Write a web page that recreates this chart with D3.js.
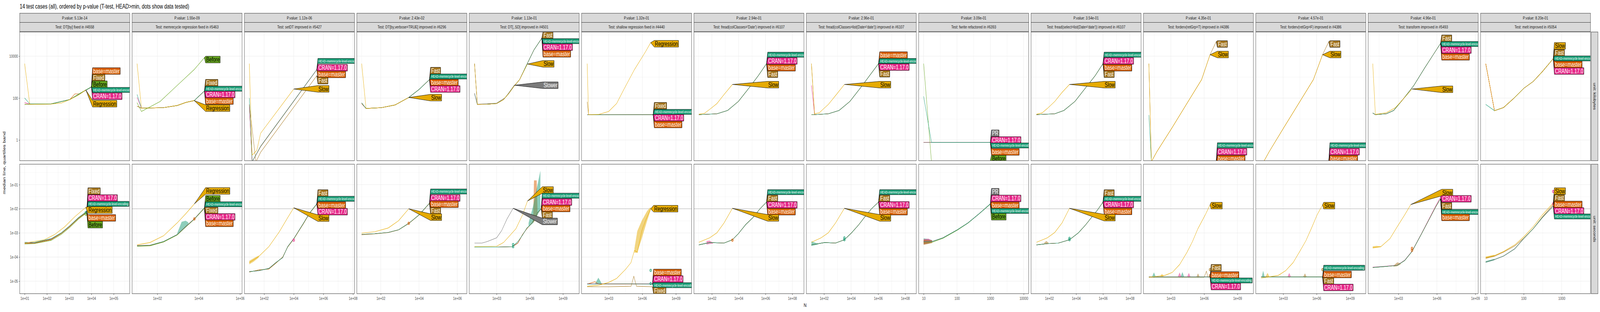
<!DOCTYPE html>
<html>
<head>
<meta charset="utf-8">
<script src="https://cdn.jsdelivr.net/npm/d3@7"></script>
<style>
  html, body { margin: 0; padding: 0; background: #fff; overflow: hidden; }
  #chart svg { display: block; width: 100vw; height: 100vh; }
  text { font-family: "Liberation Sans", Arial, Helvetica, sans-serif; }
</style>
</head>
<body>
<div id="chart"></div>
<script>
// ---- facet headers / axes ----
const panelPValues = ['5.13e-14', '1.55e-09', '1.12e-06', '2.43e-02', '1.13e-01', '1.32e-01', '2.94e-01',
  '2.96e-01', '3.09e-01', '3.54e-01', '4.35e-01', '4.57e-01', '4.96e-01', '8.20e-01'];
const panelTests = ['DT[by] fixed in #4558', 'memrecycle regression fixed in #5463', 'setDT improved in #5427',
  'DT[by,verbose=TRUE] improved in #6296', 'DT[,.SD] improved in #4501', 'shallow regression fixed in #4440',
  "fread(colClasses='Date') improved in #6107", "fread(colClasses=list(Date='date')) improved in #6107",
  'fwrite refactored in #6393', "fread(select=list(Date='date')) improved in #6107",
  'forderv(retGrp=T) improved in #4386', 'forderv(retGrp=F) improved in #4386',
  'transform improved in #5493', 'melt improved in #5054'];
const panelNRange = [[6.0, 5.25e5], [6.0, 1.26e6], [4.7, 1.26e8], [5.6, 3.16e6], [3.3, 2.95e10], [3.8, 2.5e10],
  [4.6, 7.4e8], [4.9, 6.6e8], [7.1, 14100], [4.4, 6.8e8], [3.4, 2.75e10], [3.5, 2.57e10], [4.4, 1.66e9], [7.3, 5750]];
const e2 = [100, 1e4, 1e6], e4 = [100, 1e4, 1e6, 1e8], e3 = [1e3, 1e6, 1e9];
const panelNTicks = [[10, 100, 1e3, 1e4, 1e5], e2, e4, e2, e3, e3, e4, e4, [10, 100, 1000, 10000], e4, e3, e3, e3, [10, 100, 1000]];
const sciLabel = { 10: '1e+01', 100: '1e+02', 1000: '1e+03', 10000: '1e+04', 100000: '1e+05', 1e6: '1e+06', 1e8: '1e+08', 1e9: '1e+09' };
const plainTickPanels = [8, 13];
const kbTicks = [1, 100, 10000];
const kbTickLabels = ['1', '100', '10000'];
const secTicks = [1e-5, 1e-4, 1e-3, 1e-2, 1e-1];
const secTickLabels = ['1e-05', '1e-04', '1e-03', '1e-02', '1e-01'];
const kbRange = [0.1033, 142200];
const secRange = [3.04e-6, 0.705];
const secRefLine = 0.01;

const seriesColor = { HEAD: '#1B9E77', base: '#D95F02', CRAN: '#E7298A', Before: '#66A61E', Regression: '#E6AB02',
  Slow: '#E6AB02', Fixed: '#A6761D', Fast: '#A6761D', Slower: '#7A7A7A', PR: '#7A7A7A' };
const labelText = { HEAD: 'HEAD=memrecycle-level-encoding', base: 'base=master', CRAN: 'CRAN=1.17.0', Before: 'Before',
  Regression: 'Regression', Fixed: 'Fixed', Fast: 'Fast', Slow: 'Slow', Slower: 'Slower', PR: 'PR' };
const darkInk = ['Before', 'Regression', 'Slow'];
const drawOrder = ['base', 'CRAN', 'Fixed', 'Fast', 'Before', 'Slower', 'PR', 'HEAD', 'Regression', 'Slow'];

// ---- 1: DT[by] ----
const dtBy_kb = {
  Regression: [[10, 4400], [17, 50], [155, 52], [450, 58], [1070, 85], [2600, 138], [5600, 245]],
  base: [[10, 50], [155, 52], [1070, 85], [1800, 158], [3100, 158], [5200, 230], [10000, 340]],
  CRAN: [[10, 60], [17, 52], [155, 53], [1070, 85], [3100, 165], [10000, 330]],
  Fixed: [[10, 50], [17, 51], [155, 53], [1070, 86], [3100, 168], [10000, 335]],
  Before: [[10, 50], [17, 51], [155, 52], [1070, 84], [3100, 170], [10000, 345]],
  HEAD: [[10, 100], [17, 53], [155, 53], [1070, 85], [3100, 165], [10000, 340]]
};
const dtBy_kbLabels = [['base', 1950], ['Fixed', 955], ['Before', 457], ['HEAD', 245], ['CRAN', 123], ['Regression', 54]];
const dtBy_sec = {
  Regression: [[10, 3.8e-4], [78, 5.2e-4], [220, 8.5e-4], [630, 1.8e-3], [1800, 4.7e-3], [5600, 1.15e-2]],
  base: [[10, 3.6e-4], [27, 3.7e-4], [155, 5.2e-4], [450, 9.5e-4], [1070, 1.85e-3], [2600, 4.0e-3], [6200, 7.2e-3]],
  CRAN: [[10, 4.0e-4], [27, 3.9e-4], [155, 5.6e-4], [450, 1.0e-3], [1070, 1.95e-3], [2600, 4.2e-3], [6200, 7.6e-3]],
  Fixed: [[10, 3.7e-4], [27, 3.8e-4], [155, 5.4e-4], [450, 9.8e-4], [1070, 1.9e-3], [2600, 4.1e-3], [6200, 7.4e-3]],
  Before: [[10, 3.5e-4], [27, 3.6e-4], [155, 4.9e-4], [450, 8.8e-4], [1070, 1.7e-3], [2600, 3.7e-3], [6200, 6.9e-3]],
  HEAD: [[10, 4.1e-4], [27, 4.0e-4], [155, 5.8e-4], [450, 1.02e-3], [1070, 2.0e-3], [2600, 4.3e-3], [6200, 7.9e-3]]
};
const dtBy_secLabels = [['Fixed', 0.054], ['CRAN', 0.028], ['HEAD', 0.016], ['Regression', 0.0089], ['base', 0.0042], ['Before', 0.0022]];
const dtBy_secBands = {};
const dtBy_secDots = [['HEAD', 5600, 7.0e-3], ['Before', 5600, 6.0e-3]];

// ---- 2: memrecycle ----
const memrecycle_kb = {
  Regression: [[10.5, 4400], [17, 33], [195, 35], [910, 44], [2400, 62], [6100, 76]],
  base: [[10.5, 41], [17, 33], [195, 35], [910, 44], [2400, 62], [6100, 76], [19000, 215]],
  CRAN: [[10.5, 107], [17, 33], [195, 35], [910, 44], [2400, 62], [6100, 76], [19000, 215]],
  Fixed: [[10.5, 41], [17, 33], [195, 35], [910, 44], [2400, 62], [6100, 76], [19000, 220]],
  Before: [[10.5, 60], [17, 23], [136, 69], [910, 400], [6100, 2300], [19000, 8500]],
  HEAD: [[10.5, 148], [17, 33], [195, 35], [910, 44], [2400, 62], [6100, 76], [19000, 220]]
};
const memrecycle_kbLabels = [['Before', 6900], ['Fixed', 540], ['HEAD', 280], ['CRAN', 148], ['base', 72], ['Regression', 33]];
const memrecycle_sec = {
  Regression: [[10.5, 3.2e-4], [44, 4.0e-4], [200, 7.6e-4], [910, 2.6e-3], [2350, 6.2e-3], [6200, 1.6e-2]],
  base: [[10.5, 2.9e-4], [44, 3.0e-4], [200, 4.2e-4], [910, 8.2e-4], [2350, 1.75e-3], [6200, 3.7e-3], [19000, 1.05e-2]],
  CRAN: [[10.5, 3.0e-4], [44, 3.1e-4], [200, 4.4e-4], [910, 8.6e-4], [2350, 1.85e-3], [6200, 3.9e-3], [19000, 1.1e-2]],
  Fixed: [[10.5, 2.9e-4], [44, 3.0e-4], [200, 4.3e-4], [910, 8.4e-4], [2350, 1.8e-3], [6200, 3.8e-3], [19000, 1.1e-2]],
  Before: [[10.5, 2.8e-4], [44, 2.9e-4], [200, 4.2e-4], [910, 8.3e-4], [2350, 1.8e-3], [6200, 3.8e-3], [19000, 1.08e-2]],
  HEAD: [[10.5, 2.95e-4], [44, 3.1e-4], [200, 4.4e-4], [910, 8.5e-4], [2350, 1.8e-3], [6200, 3.8e-3], [19000, 1.1e-2]]
};
const memrecycle_secLabels = [['Regression', 0.055], ['Before', 0.026], ['HEAD', 0.0154], ['Fixed', 0.0085], ['CRAN', 0.0046], ['base', 0.0025]];
const memrecycle_secBands = { HEAD: [[910, 8.5e-4, 9.5e-4], [1500, 1.2e-3, 2.9e-3], [2350, 1.8e-3, 3.2e-3], [3200, 2.4e-3, 2.7e-3]] };
const memrecycle_secDots = [['base', 6200, 3.8e-3]];

// ---- 3: setDT ----
const setDT_kb = {
  Slow: [[10, 4400], [15.5, 0.19], [32, 0.32], [58, 2.1], [10000, 270]],
  Fast: [[10, 50], [28, 0.09], [58, 0.26], [3.6e5, 1170]],
  base: [[10, 45], [15.5, 0.09], [58, 0.48], [3.6e5, 2250]],
  CRAN: [[10, 50], [15.5, 0.09], [58, 0.5], [3.6e5, 2300]],
  HEAD: [[10, 100], [15.5, 0.093], [58, 0.5], [3.6e5, 2300]]
};
const setDT_kbLabels = [['HEAD', 5900], ['CRAN', 2800], ['base', 1350], ['Fast', 680], ['Slow', 275]];
const setDT_secCluster = [[10, 2.5e-5], [43, 2.7e-5], [210, 3.4e-5], [620, 5.9e-5], [1800, 9.5e-5], [3900, 2.7e-4],
  [10000, 5.8e-4], [43000, 2.4e-3], [1.2e5, 6.8e-3], [3.6e5, 1.6e-2]];
const setDT_secAlt = [[10, 2.4e-5], [43, 2.9e-5], [210, 3.2e-5], [620, 5.6e-5], [1800, 1.0e-4], [3900, 2.6e-4],
  [10000, 5.6e-4], [43000, 2.3e-3], [1.2e5, 6.6e-3], [3.6e5, 1.55e-2]];
const setDT_sec = {
  Slow: [[10, 5.9e-5], [43, 1.05e-4], [210, 2.7e-4], [1050, 1.1e-3], [3900, 4.3e-3], [10000, 1.1e-2]],
  Fast: setDT_secAlt, base: setDT_secAlt, CRAN: setDT_secCluster, HEAD: setDT_secCluster
};
const setDT_secLabels = [['Fast', 0.045], ['HEAD', 0.026], ['base', 0.0142], ['CRAN', 0.0076], ['Slow', 0.0041]];
const setDT_secBands = { Slow: [[10, 5.0e-5, 7.0e-5], [20, 6.5e-5, 9.0e-5], [43, 9.5e-5, 1.15e-4]] };
const setDT_secDots = [['CRAN', 10000, 5.0e-4]];

// ---- 4: DT[by,verbose=TRUE] ----
const verbose_kbCluster = [[10, 55], [17, 32], [110, 35], [560, 47], [2900, 107], [10000, 257], [35000, 760]];
const verbose_kb = {
  Slow: [[10, 4400], [17, 32], [110, 35], [560, 47], [2900, 107]],
  base: verbose_kbCluster, CRAN: verbose_kbCluster, Fast: verbose_kbCluster,
  HEAD: [[10, 60], [17, 32], [110, 35], [560, 47], [2900, 107], [10000, 257], [35000, 760]]
};
const verbose_kbLabels = [['Fast', 2040], ['HEAD', 1070], ['base', 550], ['CRAN', 270], ['Slow', 105]];
const verbose_secCluster = [[10, 8.7e-4], [48, 9.3e-4], [245, 1.05e-3], [850, 1.35e-3], [2900, 2.5e-3], [10000, 5.6e-3], [35000, 1.7e-2]];
const verbose_sec = {
  Slow: [[10, 9.8e-4], [48, 1.12e-3], [245, 1.6e-3], [850, 3.2e-3], [2900, 1.0e-2]],
  base: [[10, 8.4e-4], [48, 9.1e-4], [245, 1.03e-3], [850, 1.33e-3], [2900, 2.45e-3], [10000, 5.5e-3], [35000, 1.65e-2]],
  CRAN: verbose_secCluster, Fast: verbose_secCluster, HEAD: verbose_secCluster
};
const verbose_secLabels = [['HEAD', 0.052], ['CRAN', 0.028], ['base', 0.0155], ['Fast', 0.0083], ['Slow', 0.0045]];
const verbose_secBands = {};
const verbose_secDots = [['base', 2900, 2.5e-3]];

// ---- 5: DT[,.SD] ----
const sd_kbTail = [[18, 50], [145, 51], [1000, 55], [4200, 85], [12600, 166], [39000, 380], [1.2e5, 760], [5.4e5, 4000], [2.4e6, 20000], [1.23e7, 72000]];
const sd_kb = {
  Slow: [[10, 4400], [18, 50], [145, 51], [1000, 55], [4200, 85], [12600, 166], [39000, 380], [1.2e5, 760], [6.2e5, 4200]],
  Slower: [[10, 4400], [18, 51], [1000, 57], [6000, 105], [39000, 410]],
  base: [[10, 166]].concat(sd_kbTail), CRAN: [[10, 166]].concat(sd_kbTail),
  Fast: [[10, 4400]].concat(sd_kbTail), HEAD: [[10, 166]].concat(sd_kbTail)
};
const sd_kbLabels = [['Fast', 1.0e5], ['HEAD', 52000], ['CRAN', 27000], ['base', 12900], ['Slow', 4300], ['Slower', 410]];
const sd_secCluster = [[10, 2.6e-4], [1000, 2.6e-4], [27000, 2.7e-4], [83000, 3.8e-4], [2.2e5, 8.5e-4], [5.4e5, 1.5e-3], [1.6e6, 2.6e-3], [5e6, 6.8e-3], [1.07e7, 1.0e-2]];
const sd_sec = {
  Slower: [[10, 3.8e-4], [47, 3.8e-4], [145, 4.4e-4], [1000, 6.3e-4], [2800, 1.23e-3], [8700, 3.8e-3], [31000, 1.05e-2]],
  Slow: [[10, 2.7e-4], [1000, 2.8e-4], [4200, 4.0e-4], [18600, 8.5e-4], [56000, 1.5e-3], [2.2e5, 5.6e-3], [6.2e5, 2.1e-2]],
  base: sd_secCluster, CRAN: sd_secCluster, Fast: sd_secCluster,
  HEAD: [[10, 2.6e-4], [1000, 2.6e-4], [27000, 2.7e-4], [83000, 4.4e-4], [2.2e5, 8.0e-4], [5.4e5, 1.6e-3], [1.6e6, 2.5e-3], [5e6, 7.0e-3], [1.07e7, 1.0e-2]]
};
const sd_secLabels = [['Slow', 0.060], ['HEAD', 0.035], ['CRAN', 0.019], ['base', 0.0103], ['Fast', 0.0056], ['Slower', 0.0030]];
const sd_secBands = {
  base: [[2.0e6, 2.6e-3, 3.2e-3], [2.4e6, 2.8e-3, 0.15], [4.2e6, 4.5e-3, 0.15], [5e6, 6.0e-3, 8.0e-3]],
  HEAD: [[7.8e5, 1.8e-3, 2.6e-3], [2.0e6, 2.6e-3, 1.3e-2], [5e6, 5.5e-3, 0.1], [9.1e6, 9.0e-3, 0.38]]
};
const sd_secDots = [['HEAD', 31000, 2.7e-4], ['HEAD', 31000, 3.3e-4]];

// ---- 6: shallow ----
const shallow_kb = {
  Regression: [[12, 4400], [16, 16], [126, 16.6], [1000, 23], [5100, 55], [22400, 257], [2.0e5, 2300], [1.9e6, 16000], [5.6e6, 44000]],
  Fixed: [[12, 66], [16, 16], [9.3e6, 16.2]],
  base: [[12, 16], [9.3e6, 16.2]], CRAN: [[12, 16], [9.3e6, 16.2]], HEAD: [[12, 16], [9.3e6, 16.2]]
};
const shallow_kbLabels = [['Regression', 39000], ['Fixed', 43], ['HEAD', 22], ['CRAN', 11.5], ['base', 5.5]];
const shallow_sec = {
  Regression: [[12, 6.2e-6], [126, 6.8e-6], [1000, 8.9e-6], [5100, 1.3e-5], [32000, 3.1e-5], [98000, 5.9e-5], [2.0e5, 1.9e-4],
    [3.6e5, 1.55e-4], [8.9e5, 1.2e-3], [1.9e6, 3.2e-3], [5.6e6, 1.0e-2]],
  Fixed: [[12, 5.9e-6], [1000, 5.9e-6], [1.0e5, 6.2e-6], [1.75e5, 1.6e-5], [3e5, 6.2e-6], [8.1e6, 5.9e-6]],
  base: [[12, 7.6e-6], [60, 9.5e-6], [120, 7.6e-6], [8.1e6, 7.6e-6]],
  CRAN: [[12, 7.8e-6], [8.1e6, 7.8e-6]],
  HEAD: [[12, 7.6e-6], [30000, 7.8e-6], [8.1e6, 7.6e-6]]
};
const shallow_secLabels = [['Regression', 0.0101], ['base', 2.3e-5], ['CRAN', 1.23e-5], ['HEAD', 6.8e-6], ['Fixed', 4.0e-6]];
const shallow_secBands = {
  Regression: [[2.0e5, 1.5e-4, 2.3e-4], [3.6e5, 1.55e-4, 1.2e-3], [8.9e5, 5.8e-4, 3.2e-3], [2.7e6, 3.2e-3, 8.1e-3], [5.6e6, 8.9e-3, 1.2e-2]],
  HEAD: [[60, 7.6e-6, 7.8e-6], [120, 7.6e-6, 1.4e-5], [250, 7.6e-6, 7.8e-6]]
};
const shallow_secDots = [['HEAD', 5.6e6, 2.8e-5], ['HEAD', 5.6e6, 8.0e-6]];

// ---- 7: fread(colClasses='Date') ----
const freadDate_kbCluster = [[10.7, 16.2], [240, 17.8], [1500, 25.7], [9500, 69], [62000, 316], [2.9e5, 1170], [1.2e6, 4400]];
const freadDate_kb = {
  Slow: [[10.7, 17], [27.5, 18.6], [69, 29], [240, 55], [810, 148], [3400, 447]],
  base: freadDate_kbCluster, CRAN: freadDate_kbCluster, Fast: freadDate_kbCluster, HEAD: freadDate_kbCluster
};
const freadDate_kbLabels = [['HEAD', 11700], ['CRAN', 5900], ['base', 2800], ['Fast', 1380], ['Slow', 436]];
const freadDate_secCluster = [[10.7, 3.2e-4], [69, 4.0e-4], [810, 3.8e-4], [3400, 5.2e-4], [9500, 9.3e-4], [33000, 2.2e-3], [1.15e5, 4.3e-3], [3.9e5, 1.0e-2], [1.2e6, 1.9e-2]];
const freadDate_sec = {
  Slow: [[10.7, 4.1e-4], [69, 6.3e-4], [240, 1.02e-3], [810, 2.6e-3], [3400, 1.05e-2]],
  base: freadDate_secCluster, CRAN: freadDate_secCluster, Fast: freadDate_secCluster, HEAD: freadDate_secCluster
};
const freadDate_secLabels = [['HEAD', 0.049], ['Fast', 0.027], ['CRAN', 0.0145], ['base', 0.0076], ['Slow', 0.0042]];
const freadDate_secBands = { CRAN: [[40, 3.3e-4, 4.6e-4], [69, 3.5e-4, 4.8e-4], [120, 3.6e-4, 3.9e-4]] };
const freadDate_secDots = [['base', 3400, 5.0e-4]];

// ---- 8: fread(colClasses=list(Date='date')) ----
const freadList_kbTail = [[20, 16.2], [210, 17.8], [1290, 25.7], [8100, 69], [51000, 316], [2.3e5, 1170], [1.07e6, 4400]];
const freadList_kb = {
  Slow: [[11.7, 4400], [20, 17.8], [46, 20], [83, 29], [210, 50], [710, 132], [3200, 447]],
  Fast: [[11.7, 4400]].concat(freadList_kbTail), CRAN: [[11.7, 400]].concat(freadList_kbTail),
  base: [[11.7, 16.2]].concat(freadList_kbTail), HEAD: [[11.7, 16.2]].concat(freadList_kbTail)
};
const freadList_kbLabels = [['base', 11200], ['HEAD', 5900], ['CRAN', 3000], ['Fast', 1450], ['Slow', 436]];
const freadList_secCluster = [[11.7, 3.2e-4], [112, 4.0e-4], [710, 3.8e-4], [3200, 5.2e-4], [11000, 1.02e-3], [37000, 2.2e-3], [93000, 4.3e-3], [3.2e5, 1.0e-2], [1.07e6, 1.9e-2]];
const freadList_sec = {
  Slow: [[11.7, 4.1e-4], [61, 6.3e-4], [210, 1.02e-3], [710, 2.6e-3], [3200, 1.05e-2]],
  base: freadList_secCluster, CRAN: freadList_secCluster, Fast: freadList_secCluster, HEAD: freadList_secCluster
};
const freadList_secLabels = [['HEAD', 0.049], ['Fast', 0.027], ['CRAN', 0.0145], ['base', 0.0076], ['Slow', 0.0042]];
const freadList_secBands = { HEAD: [[11.7, 2.9e-4, 4.5e-4], [20, 3.1e-4, 4.0e-4], [35, 3.3e-4, 3.6e-4]] };
const freadList_secDots = [['HEAD', 3200, 5.2e-4], ['HEAD', 3200, 6.2e-4]];

// ---- 9: fwrite ----
const fwrite_kb = {
  Before: [[10, 4400], [17.2, 0.087], [1000, 0.1]],
  base: [[10, 0.76], [1000, 0.76]], CRAN: [[10, 0.76], [1000, 0.76]], PR: [[10, 0.76], [1000, 0.76]],
  HEAD: [[10, 120], [17.2, 0.76], [1000, 0.76]]
};
const fwrite_kbLabels = [['PR', 2.1], ['CRAN', 1.0], ['HEAD', 0.55], ['base', 0.27], ['Before', 0.13]];
const fwrite_secCluster = [[10, 4.4e-4], [18, 4.4e-4], [38, 6.3e-4], [102, 1.35e-3], [214, 2.6e-3], [457, 6.2e-3], [1000, 1.6e-2]];
const fwrite_sec = {
  Before: [[10, 3.9e-4], [18, 4.1e-4], [38, 6.0e-4], [102, 1.3e-3], [214, 2.55e-3], [457, 6.1e-3], [1000, 1.55e-2]],
  base: fwrite_secCluster, CRAN: fwrite_secCluster, PR: fwrite_secCluster, HEAD: fwrite_secCluster
};
const fwrite_secLabels = [['PR', 0.051], ['CRAN', 0.027], ['base', 0.0141], ['HEAD', 0.0082], ['Before', 0.0047]];
const fwrite_secBands = {
  HEAD: [[10, 3.3e-4, 6.0e-4], [14, 3.6e-4, 5.5e-4], [18, 4.0e-4, 5.0e-4]],
  CRAN: [[10, 3.5e-4, 5.5e-4], [14, 3.8e-4, 5.8e-4], [18, 4.2e-4, 4.8e-4]],
  base: [[10, 3.2e-4, 5.2e-4], [18, 3.8e-4, 4.9e-4]]
};
const fwrite_secDots = [];

// ---- 10: fread(select=list(Date='date')) ----
const freadSel_kbCluster = [[11.2, 16.2], [257, 17.8], [1230, 25.7], [8100, 69], [52000, 316], [2.6e5, 1170], [1.0e6, 4400]];
const freadSel_kb = {
  Slow: [[11.2, 17], [29, 19.5], [72, 32], [257, 69], [890, 186], [3200, 447]],
  base: freadSel_kbCluster, CRAN: freadSel_kbCluster, Fast: freadSel_kbCluster, HEAD: freadSel_kbCluster
};
const freadSel_kbLabels = [['HEAD', 11700], ['CRAN', 5900], ['base', 2800], ['Fast', 1380], ['Slow', 436]];
const freadSel_secCluster = [[11.2, 3.2e-4], [72, 3.6e-4], [480, 3.8e-4], [3200, 5.2e-4], [15000, 1.02e-3], [52000, 2.2e-3], [1.35e5, 4.3e-3], [4.0e5, 9.1e-3], [1.0e6, 1.9e-2]];
const freadSel_sec = {
  Slow: [[11.2, 4.1e-4], [72, 6.3e-4], [257, 1.05e-3], [890, 2.6e-3], [3200, 1.05e-2]],
  base: freadSel_secCluster, CRAN: freadSel_secCluster, Fast: freadSel_secCluster, HEAD: freadSel_secCluster
};
const freadSel_secLabels = [['Fast', 0.045], ['HEAD', 0.026], ['CRAN', 0.0151], ['base', 0.0078], ['Slow', 0.0043]];
const freadSel_secBands = { Fast: [[40, 3.5e-4, 3.8e-4], [60, 3.5e-4, 4.6e-4], [90, 3.6e-4, 3.9e-4]] };
const freadSel_secDots = [['HEAD', 3200, 5.2e-4], ['HEAD', 3200, 6.0e-4]];

// ---- 11: forderv(retGrp=T) ----
const forderT_kb = {
  Slow: [[10.5, 4400], [17.8, 0.093], [56, 0.28], [1350, 4.0], [28000, 55], [5.9e5, 760], [3.4e6, 11700]],
  Fast: [[10.5, 4400], [17.8, 0.093], [56, 0.28], [1350, 4.0], [28000, 55], [5.9e5, 760], [3.4e6, 11700], [1.23e7, 49000]],
  HEAD: [[10.5, 15.5], [17.8, 0.09], [1.23e7, 0.09]],
  CRAN: [[10.5, 0.09], [1.23e7, 0.09]], base: [[10.5, 0.09], [1.23e7, 0.09]]
};
const forderT_kbLabels = [['Fast', 38000], ['Slow', 12000], ['HEAD', 0.56], ['CRAN', 0.275], ['base', 0.13]];
const forderT_sec = {
  Slow: [[10.5, 1.45e-5], [295, 1.74e-5], [1350, 2.3e-5], [6200, 4.9e-5], [28000, 1.55e-4], [89000, 4.4e-4], [2.75e5, 1.5e-3], [1.26e6, 5.6e-3], [3.4e6, 1.45e-2]],
  Fast: [[10.5, 1.45e-5], [1.0e6, 1.45e-5], [1.6e6, 2.6e-5], [2.2e6, 1.45e-5], [3.4e6, 1.5e-5]],
  HEAD: [[10.5, 1.5e-5], [3.4e6, 1.5e-5]], CRAN: [[10.5, 1.5e-5], [3.4e6, 1.5e-5]], base: [[10.5, 1.5e-5], [3.4e6, 1.5e-5]]
};
const forderT_secLabels = [['Slow', 0.0135], ['Fast', 3.6e-5], ['base', 1.8e-5], ['HEAD', 1.07e-5], ['CRAN', 6.0e-6]];
const forderT_secBands = {
  HEAD: [[20, 1.5e-5, 1.5e-5], [30, 1.4e-5, 2.3e-5], [45, 1.5e-5, 1.5e-5], [7500, 1.5e-5, 1.5e-5], [11000, 1.4e-5, 2.4e-5], [16000, 1.5e-5, 1.5e-5]],
  CRAN: [[4200, 1.5e-5, 1.5e-5], [6200, 1.4e-5, 2.3e-5], [9000, 1.5e-5, 1.5e-5], [29000, 1.5e-5, 1.5e-5], [42000, 1.4e-5, 2.2e-5], [60000, 1.5e-5, 1.5e-5]],
  Slow: [[110, 1.6e-5, 1.6e-5], [160, 1.5e-5, 2.0e-5], [230, 1.6e-5, 1.6e-5]],
  Fast: [[2.0e5, 1.5e-5, 1.5e-5], [2.8e5, 1.4e-5, 2.1e-5], [4.0e5, 1.5e-5, 1.5e-5]]
};
const forderT_secDots = [['Fast', 3.4e6, 3.0e-5], ['base', 3.4e6, 1.7e-5]];

// ---- 12: forderv(retGrp=F) ----
const forderF_kb = {
  Slow: [[17.8, 0.093], [56, 0.28], [1170, 4.0], [24500, 55], [5.1e5, 760], [3.4e6, 11700]],
  Fast: [[17.8, 0.093], [56, 0.28], [1170, 4.0], [24500, 55], [5.1e5, 760], [3.4e6, 11700], [1.23e7, 49000]],
  HEAD: [[10.5, 0.09], [1.23e7, 0.09]], CRAN: [[10.5, 0.09], [1.23e7, 0.09]], base: [[10.5, 0.09], [1.23e7, 0.09]]
};
const forderF_kbLabels = [['Fast', 38000], ['Slow', 12000], ['HEAD', 0.56], ['CRAN', 0.275], ['base', 0.13]];
const forderF_sec = {
  Slow: [[10.5, 1.35e-5], [370, 1.74e-5], [1700, 2.75e-5], [7800, 5.9e-5], [35000, 1.9e-4], [1.1e5, 4.8e-4], [3.5e5, 1.6e-3], [1.1e6, 5.6e-3], [3.4e6, 1.45e-2]],
  Fast: [[10.5, 1.5e-5], [3.4e6, 1.5e-5]],
  HEAD: [[10.5, 1.5e-5], [3.4e6, 1.5e-5]], CRAN: [[10.5, 1.5e-5], [3.4e6, 1.5e-5]], base: [[10.5, 1.5e-5], [3.4e6, 1.5e-5]]
};
const forderF_secLabels = [['Slow', 0.0135], ['HEAD', 3.6e-5], ['base', 1.9e-5], ['Fast', 1.02e-5], ['CRAN', 5.5e-6]];
const forderF_secBands = {
  HEAD: [[12, 1.5e-5, 1.5e-5], [16, 1.4e-5, 2.7e-5], [22, 1.5e-5, 1.5e-5]],
  CRAN: [[2400, 1.5e-5, 1.5e-5], [3500, 1.4e-5, 2.2e-5], [5000, 1.5e-5, 1.5e-5]],
  Slow: [[25, 1.5e-5, 1.5e-5], [40, 1.4e-5, 2.2e-5], [60, 1.5e-5, 1.5e-5]],
  Fast: [[6e4, 1.5e-5, 1.5e-5], [9e4, 1.4e-5, 2.1e-5], [1.3e5, 1.5e-5, 1.5e-5]]
};
const forderF_secDots = [['Fast', 3.4e6, 3.0e-5]];

// ---- 13: transform ----
const transform_kbCluster = [[16, 16.2], [115, 17.8], [430, 25.7], [2200, 85], [16000, 400], [1.15e5, 2800], [5.9e5, 13200], [1.95e6, 41000]];
const transform_kb = {
  Slow: [[10, 4400], [16, 16.6], [115, 20], [590, 35], [3100, 107], [11500, 270]],
  base: [[10, 19.5]].concat(transform_kbCluster), CRAN: [[10, 19.5]].concat(transform_kbCluster),
  Fast: [[10, 19.5]].concat(transform_kbCluster), HEAD: [[10, 19.5]].concat(transform_kbCluster)
};
const transform_kbLabels = [['Fast', 71000], ['HEAD', 38000], ['CRAN', 19500], ['base', 9300], ['Slow', 263]];
const transform_secCluster = [[10, 3.7e-5], [115, 4.1e-5], [810, 4.5e-5], [3100, 7.2e-5], [11500, 1.7e-4], [59000, 8.5e-4], [2.2e5, 3.2e-3], [8.1e5, 1.2e-2], [1.95e6, 2.6e-2]];
const transform_sec = {
  Slow: [[10, 2.45e-4], [43, 2.7e-4], [220, 5.8e-4], [810, 1.8e-3], [3100, 5.6e-3], [9300, 1.5e-2]],
  base: transform_secCluster, Fast: transform_secCluster, HEAD: transform_secCluster,
  CRAN: [[10, 3.8e-5], [115, 4.2e-5], [810, 4.6e-5], [3100, 7.4e-5], [11500, 1.75e-4], [59000, 8.8e-4], [2.2e5, 3.4e-3], [8.1e5, 1.3e-2], [1.95e6, 3.1e-2]]
};
const transform_secLabels = [['Slow', 0.047], ['CRAN', 0.026], ['Fast', 0.0132], ['HEAD', 0.0074], ['base', 0.0044]];
const transform_secBands = {
  Slow: [[10, 2.3e-4, 2.8e-4], [20, 2.4e-4, 2.9e-4], [43, 2.6e-4, 2.8e-4]],
  Fast: [[400, 4.0e-5, 4.3e-5], [810, 4.2e-5, 6.0e-5], [1500, 5.0e-5, 5.5e-5]]
};
const transform_secDots = [['base', 11500, 1.9e-4], ['base', 11500, 2.3e-4]];

// ---- 14: melt ----
const melt_kbTail = [[17, 25], [29.5, 35.5], [58, 107], [100, 290], [178, 620], [309, 1820], [600, 7600]];
const melt_kb = {
  Slow: [[10, 4400]].concat(melt_kbTail), Fast: [[10, 4400]].concat(melt_kbTail),
  base: [[10, 4400]].concat(melt_kbTail), CRAN: [[10, 4400]].concat(melt_kbTail),
  HEAD: [[10, 50]].concat(melt_kbTail)
};
const melt_kbLabels = [['Slow', 31000], ['Fast', 14500], ['HEAD', 7800], ['base', 4000], ['CRAN', 1950]];
const melt_secCluster = [[10, 6.2e-5], [17, 7.9e-5], [29.5, 1.1e-4], [58, 2.2e-4], [100, 5.8e-4], [178, 1.5e-3], [309, 4.3e-3], [600, 1.3e-2]];
const melt_sec = {
  Slow: [[10, 9.5e-5], [17, 1.15e-4], [29.5, 1.7e-4], [58, 3.2e-4], [100, 6.9e-4], [178, 1.8e-3], [309, 5.6e-3], [600, 1.74e-2]],
  Fast: [[10, 9.0e-5], [17, 1.08e-4], [29.5, 1.6e-4], [58, 2.9e-4], [100, 6.0e-4], [178, 1.5e-3], [309, 4.6e-3], [600, 1.5e-2]],
  base: melt_secCluster, CRAN: melt_secCluster, HEAD: melt_secCluster
};
const melt_secLabels = [['Slow', 0.054], ['Fast', 0.028], ['base', 0.0151], ['CRAN', 0.0081], ['HEAD', 0.0048]];
const melt_secBands = { Slow: [[10, 8.5e-5, 1.05e-4], [17, 1.05e-4, 1.25e-4]], HEAD: [[10, 5.8e-5, 6.8e-5], [17, 7.4e-5, 8.5e-5]] };
const melt_secDots = [['CRAN', 600, 0.052], ['CRAN', 600, 1.6e-2]];

// table of panels, built from the named arrays above
const kbSeries = [dtBy_kb, memrecycle_kb, setDT_kb, verbose_kb, sd_kb, shallow_kb, freadDate_kb, freadList_kb, fwrite_kb, freadSel_kb, forderT_kb, forderF_kb, transform_kb, melt_kb];
const kbLabels = [dtBy_kbLabels, memrecycle_kbLabels, setDT_kbLabels, verbose_kbLabels, sd_kbLabels, shallow_kbLabels, freadDate_kbLabels, freadList_kbLabels, fwrite_kbLabels, freadSel_kbLabels, forderT_kbLabels, forderF_kbLabels, transform_kbLabels, melt_kbLabels];
const secSeries = [dtBy_sec, memrecycle_sec, setDT_sec, verbose_sec, sd_sec, shallow_sec, freadDate_sec, freadList_sec, fwrite_sec, freadSel_sec, forderT_sec, forderF_sec, transform_sec, melt_sec];
const secLabels = [dtBy_secLabels, memrecycle_secLabels, setDT_secLabels, verbose_secLabels, sd_secLabels, shallow_secLabels, freadDate_secLabels, freadList_secLabels, fwrite_secLabels, freadSel_secLabels, forderT_secLabels, forderF_secLabels, transform_secLabels, melt_secLabels];
const secBands = [dtBy_secBands, memrecycle_secBands, setDT_secBands, verbose_secBands, sd_secBands, shallow_secBands, freadDate_secBands, freadList_secBands, fwrite_secBands, freadSel_secBands, forderT_secBands, forderF_secBands, transform_secBands, melt_secBands];
const secDots = [dtBy_secDots, memrecycle_secDots, setDT_secDots, verbose_secDots, sd_secDots, shallow_secDots, freadDate_secDots, freadList_secDots, fwrite_secDots, freadSel_secDots, forderT_secDots, forderF_secDots, transform_secDots, melt_secDots];

// ---- layout (drawn in a 5600x800 user space, fitted to the window) ----
const W = 5600, H = 800;
const left0 = 69, panelW = 385, panelStep = 393.3;
const rows = [
  { key: 'kb', top: 82, bottom: 412, range: kbRange, ticks: kbTicks, tickLabels: kbTickLabels, strip: 'unit: kilobytes' },
  { key: 'sec', top: 421, bottom: 753, range: secRange, ticks: secTicks, tickLabels: secTickLabels, strip: 'unit: seconds' }
];
const FONT = '"Liberation Sans", Arial, Helvetica, sans-serif';

const svg = d3.select('#chart').append('svg')
  .attr('viewBox', `0 0 ${W} ${H}`).attr('preserveAspectRatio', 'none')
  .style('font-family', FONT);
svg.append('rect').attr('width', W).attr('height', H).attr('fill', '#fff');

svg.append('text').attr('x', 69).attr('y', 22).attr('font-size', 16.5).attr('fill', '#000')
  .text('14 test cases (all), ordered by p-value (T-test, HEAD>min, dots show data tested)');

function minorsOf(majors, domain) {
  const l = majors.map(Math.log10), s = l[1] - l[0];
  const lo = Math.log10(domain[0]), hi = Math.log10(domain[1]);
  return [...l.map(v => v - s / 2), l[l.length - 1] + s / 2].filter(v => v > lo && v < hi).map(v => 10 ** v);
}

const defs = svg.append('defs');

panelTests.forEach((test, i) => {
  const x0 = left0 + i * panelStep;
  const x = d3.scaleLog().domain(panelNRange[i]).range([x0, x0 + panelW]);
  const xt = panelNTicks[i];
  const xtl = plainTickPanels.includes(i) ? xt.map(String) : xt.map(v => sciLabel[v]);

  // strips
  [[34, 'P.value: ' + panelPValues[i]], [57.5, 'Test: ' + test]].forEach(([sy, txt]) => {
    svg.append('rect').attr('x', x0).attr('y', sy).attr('width', panelW).attr('height', 23.5)
      .attr('fill', '#D9D9D9').attr('stroke', '#333').attr('stroke-width', 1);
    svg.append('text').attr('x', x0 + panelW / 2).attr('y', sy + 16).attr('text-anchor', 'middle')
      .attr('font-size', 11.5).attr('fill', '#1A1A1A').text(txt);
  });

  rows.forEach((row, r) => {
    const y = d3.scaleLog().domain(row.range).range([row.bottom, row.top]);
    const ph = row.bottom - row.top;
    const g = svg.append('g');
    g.append('rect').attr('x', x0).attr('y', row.top).attr('width', panelW).attr('height', ph).attr('fill', '#fff');

    // grid
    minorsOf(row.ticks, row.range).forEach(v => g.append('line').attr('x1', x0).attr('x2', x0 + panelW)
      .attr('y1', y(v)).attr('y2', y(v)).attr('stroke', '#EBEBEB').attr('stroke-width', 0.6));
    minorsOf(xt, panelNRange[i]).forEach(v => g.append('line').attr('y1', row.top).attr('y2', row.bottom)
      .attr('x1', x(v)).attr('x2', x(v)).attr('stroke', '#EBEBEB').attr('stroke-width', 0.6));
    row.ticks.forEach(v => g.append('line').attr('x1', x0).attr('x2', x0 + panelW)
      .attr('y1', y(v)).attr('y2', y(v)).attr('stroke', '#EBEBEB').attr('stroke-width', 1.2));
    xt.forEach(v => g.append('line').attr('y1', row.top).attr('y2', row.bottom)
      .attr('x1', x(v)).attr('x2', x(v)).attr('stroke', '#EBEBEB').attr('stroke-width', 1.2));
    if (row.key === 'sec') {
      g.append('line').attr('x1', x0).attr('x2', x0 + panelW).attr('y1', y(secRefLine)).attr('y2', y(secRefLine))
        .attr('stroke', '#BEBEBE').attr('stroke-width', 1.4);
    }

    const clipId = `clip-${i}-${r}`;
    defs.append('clipPath').attr('id', clipId).append('rect')
      .attr('x', x0).attr('y', row.top).attr('width', panelW).attr('height', ph);
    const cg = g.append('g').attr('clip-path', `url(#${clipId})`);

    const series = row.key === 'kb' ? kbSeries[i] : secSeries[i];
    const labels = row.key === 'kb' ? kbLabels[i] : secLabels[i];
    const bands = row.key === 'kb' ? {} : secBands[i];
    const dots = row.key === 'kb' ? [] : secDots[i];

    const area = d3.area().x(d => x(d[0])).y0(d => y(d[1])).y1(d => y(d[2]));
    Object.entries(bands).forEach(([k, b]) => cg.append('path').attr('d', area(b))
      .attr('fill', seriesColor[k]).attr('fill-opacity', 0.5));

    const line = d3.line().x(d => x(d[0])).y(d => y(d[1]));
    drawOrder.filter(k => series[k]).forEach(k => cg.append('path').attr('d', line(series[k]))
      .attr('fill', 'none').attr('stroke', seriesColor[k]).attr('stroke-width', 1.1));

    dots.forEach(([k, n, v]) => cg.append('circle').attr('cx', x(n)).attr('cy', y(v)).attr('r', 3.2)
      .attr('fill', seriesColor[k]).attr('fill-opacity', 0.35).attr('stroke', seriesColor[k]).attr('stroke-width', 1.2));

    // direct labels: box stack to the right of the line ends, pointer to each end
    const lastPt = k => series[k][series[k].length - 1];
    const bx = d3.max(labels, ([k]) => x(lastPt(k)[0])) + 4;
    labels.forEach(([k, v]) => {
      const [n, val] = lastPt(k);
      const tx = x(n), ty = y(val), cy = y(v);
      const small = k === 'HEAD';
      const fs = small ? 9 : 16, h = small ? 13 : 17;
      const lg = cg.append('g');
      const poly = lg.append('polygon');
      const t = lg.append('text').attr('x', bx + 2).attr('y', cy + fs * 0.36).attr('font-size', fs)
        .attr('fill', darkInk.includes(k) ? '#000' : '#fff').text(labelText[k]);
      const w = t.node().getComputedTextLength() + 4;
      poly.attr('points', [[tx, ty], [bx, cy - h / 2], [bx + w, cy - h / 2], [bx + w, cy + h / 2], [bx, cy + h / 2]].join(' '))
        .attr('fill', seriesColor[k]).attr('stroke', '#000').attr('stroke-width', 1);
    });

    g.append('rect').attr('x', x0).attr('y', row.top).attr('width', panelW).attr('height', ph)
      .attr('fill', 'none').attr('stroke', '#333').attr('stroke-width', 1);

    if (i === 0) {
      const ya = svg.append('g').attr('transform', `translate(${x0},0)`)
        .call(d3.axisLeft(y).tickValues(row.ticks).tickFormat((d, j) => row.tickLabels[j]).tickSize(3).tickPadding(3));
      ya.select('.domain').remove();
      ya.selectAll('line').attr('stroke', '#333');
      ya.selectAll('text').attr('font-size', 11).attr('fill', '#4D4D4D').attr('font-family', FONT);
    }
    if (r === 1) {
      const xa = svg.append('g').attr('transform', `translate(0,${row.bottom})`)
        .call(d3.axisBottom(x).tickValues(xt).tickFormat((d, j) => xtl[j]).tickSize(3).tickPadding(5));
      xa.select('.domain').remove();
      xa.selectAll('line').attr('stroke', '#333');
      xa.selectAll('text').attr('font-size', 11).attr('fill', '#4D4D4D').attr('font-family', FONT);
    }
    if (i === panelTests.length - 1) {
      const sx = x0 + panelW + 2.5;
      svg.append('rect').attr('x', sx).attr('y', row.top).attr('width', 23.5).attr('height', ph)
        .attr('fill', '#D9D9D9').attr('stroke', '#333').attr('stroke-width', 1);
      svg.append('text').attr('transform', `translate(${sx + 7.5},${(row.top + row.bottom) / 2}) rotate(90)`)
        .attr('text-anchor', 'middle').attr('font-size', 11.5).attr('fill', '#1A1A1A').text(row.strip);
    }
  });
});

svg.append('text').attr('x', left0 + (13 * panelStep + panelW) / 2).attr('y', 787).attr('text-anchor', 'middle')
  .attr('font-size', 13.5).attr('fill', '#000').text('N');
svg.append('text').attr('transform', `translate(19,${(82 + 753) / 2}) rotate(-90)`).attr('text-anchor', 'middle')
  .attr('font-size', 13.5).attr('fill', '#000').text('median line, quartiles band');
</script>
</body>
</html>
